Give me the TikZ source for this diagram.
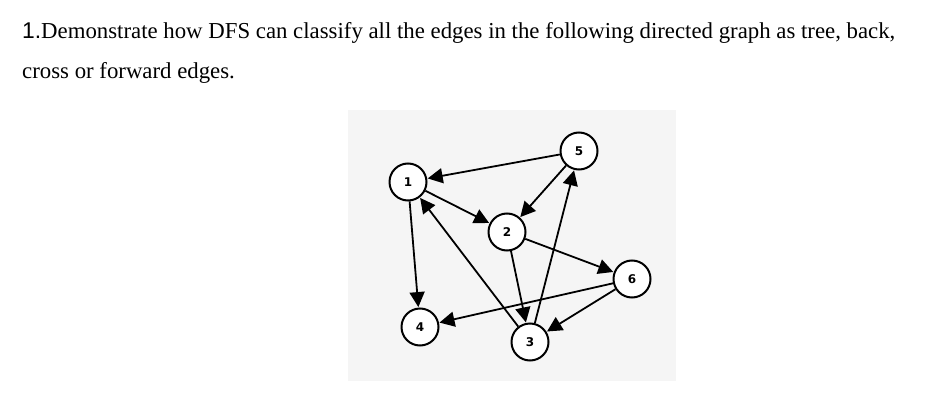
\documentclass[tikz,border=0pt]{standalone}
\usepackage{fontspec}
\setmainfont{Liberation Serif}
\newfontfamily\labfont{DejaVu Sans}
\newfontfamily\numfont{Liberation Sans}
\usetikzlibrary{arrows.meta}
\begin{document}
\begin{tikzpicture}[x=1pt,y=-1pt,
  vtx/.style={circle,draw,line width=2pt,fill=white,minimum size=37pt,inner sep=0pt,font=\labfont\bfseries\fontsize{12}{12}\selectfont},
  edge/.style={line width=1.8pt,-{Triangle[length=15pt,width=15pt]},shorten >=0.5pt},
  txt/.style={anchor=base west,inner sep=0pt,font=\fontsize{22.8}{26}\selectfont}]
\useasboundingbox (0,0) rectangle (947,417);
\fill[white] (0,0) rectangle (947,417);
\fill[black!4] (348,110) rectangle (676,381);
\node[txt] (l1) at (22,39) {{\numfont 1.}Demonstrate how DFS can classify all the edges in the following directed graph as tree, back,};
\node[txt] (l2) at (22,79) {cross or forward edges.};
\node[vtx] (n1) at (408,182) {1};
\node[vtx] (n5) at (579,151) {5};
\node[vtx] (n2) at (507,232) {2};
\node[vtx] (n6) at (632,279) {6};
\node[vtx] (n4) at (420,327) {4};
\node[vtx] (n3) at (530,342) {3};
\draw[edge] (n5) -- (n1);
\draw[edge] (n5) -- (n2);
\draw[edge] (n1) -- (n2);
\draw[edge] (n1) -- (n4);
\draw[edge] (n2) -- (n6);
\draw[edge] (n2) -- (n3);
\draw[edge] (n3) -- (n1);
\draw[edge] (n3) -- (n5);
\draw[edge] (n6) -- (n4);
\draw[edge] (n6) -- (n3);
\end{tikzpicture}
\end{document}
